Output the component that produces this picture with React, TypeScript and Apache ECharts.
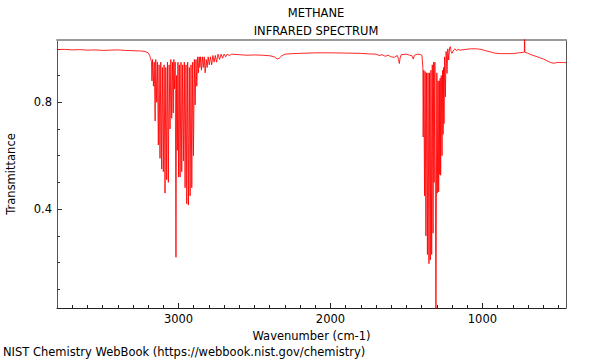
import React, { useEffect, useRef } from "react";
import * as echarts from "echarts";

const titleLines = ["METHANE", "INFRARED SPECTRUM"];
const xAxisName = "Wavenumber (cm-1)";
const yAxisName = "Transmittance";
const footerText = "NIST Chemistry WebBook (https://webbook.nist.gov/chemistry)";

const xMin = 450;
const xMax = 3800;
const yMin = 0.03;
const yMax = 1.033;

const xMajorTicks = [1000, 2000, 3000];
const xMinorTicks = [500, 600, 700, 800, 900, 1100, 1200, 1300, 1400, 1500, 1600, 1700, 1800, 1900, 2100, 2200, 2300, 2400, 2500, 2600, 2700, 2800, 2900, 3100, 3200, 3300, 3400, 3500, 3600, 3700];
const yMajorTicks = [0.4, 0.8];
const yMinorTicks = [0.1, 0.2, 0.3, 0.5, 0.6, 0.7, 0.9, 1.0];

// [wavenumber (cm-1), transmittance]
const baselineHigh: number[][] = [
  [3800, 0.997], [3750, 0.998], [3700, 0.996], [3650, 0.997], [3600, 0.995], [3550, 0.996],
  [3500, 0.994], [3450, 0.995], [3400, 0.996], [3350, 0.994], [3300, 0.993], [3250, 0.992],
  [3220, 0.99], [3200, 0.985], [3190, 0.975], [3182, 0.96],
];

const nu3Band: number[][] = [
  [3178, 0.95], [3175, 0.88], [3171, 0.96], [3165, 0.86], [3160, 0.95], [3154, 0.73], [3150, 0.96],
  [3144, 0.8], [3139, 0.95], [3133, 0.64], [3128, 0.94], [3122, 0.59], [3117, 0.95], [3111, 0.55],
  [3106, 0.93], [3100, 0.54], [3095, 0.94], [3089, 0.46], [3084, 0.93], [3078, 0.51], [3073, 0.95],
  [3067, 0.5], [3062, 0.94], [3056, 0.7], [3051, 0.96], [3045, 0.74], [3040, 0.95], [3035, 0.76],
  [3031, 0.96], [3027, 0.85], [3022, 0.95], [3017, 0.22], [3013, 0.9], [3008, 0.62], [3004, 0.95],
  [3000, 0.52], [2995, 0.94], [2990, 0.52], [2984, 0.95], [2979, 0.54], [2973, 0.94], [2968, 0.58],
  [2962, 0.95], [2957, 0.48], [2951, 0.94], [2946, 0.42], [2940, 0.95], [2935, 0.415], [2929, 0.93],
  [2924, 0.45], [2918, 0.94], [2913, 0.48], [2907, 0.95], [2902, 0.6], [2896, 0.96], [2891, 0.79],
  [2885, 0.96], [2880, 0.86], [2874, 0.97], [2869, 0.91], [2864, 0.97],
];

const ripples: number[][] = [
  [2860, 0.93], [2855, 0.97], [2849, 0.92], [2843, 0.97], [2837, 0.93], [2831, 0.97], [2825, 0.91],
  [2818, 0.96], [2812, 0.93], [2805, 0.97], [2798, 0.94], [2790, 0.97], [2782, 0.94], [2774, 0.975],
  [2766, 0.95], [2758, 0.975], [2750, 0.95], [2740, 0.98], [2730, 0.96], [2720, 0.98], [2710, 0.965],
  [2700, 0.98], [2690, 0.97], [2680, 0.98], [2665, 0.975], [2650, 0.98],
];

const midBaseline: number[][] = [
  [2600, 0.978], [2550, 0.976], [2500, 0.977], [2450, 0.976], [2400, 0.974], [2370, 0.97],
  [2350, 0.962], [2335, 0.966], [2320, 0.974], [2300, 0.98], [2250, 0.982], [2200, 0.983],
  [2100, 0.985], [2000, 0.985], [1900, 0.984], [1800, 0.983], [1750, 0.981], [1700, 0.98],
  [1680, 0.975], [1660, 0.978], [1640, 0.972], [1620, 0.976], [1600, 0.97], [1580, 0.968],
  [1560, 0.975], [1552, 0.96], [1547, 0.945], [1542, 0.965], [1535, 0.978], [1500, 0.98],
  [1480, 0.976], [1465, 0.975], [1455, 0.962], [1448, 0.975], [1430, 0.98], [1410, 0.979],
  [1398, 0.975], [1392, 0.93],
];

const nu4Band: number[][] = [
  [1390, 0.67], [1386, 0.92], [1381, 0.45], [1377, 0.915], [1372, 0.3], [1368, 0.91], [1362, 0.23],
  [1358, 0.91], [1352, 0.196], [1348, 0.91], [1343, 0.21], [1339, 0.92], [1334, 0.23], [1330, 0.94],
  [1325, 0.31], [1321, 0.95], [1318, 0.5], [1313, 0.95], [1306, -0.05], [1300, 0.91], [1297, 0.46],
  [1292, 0.88], [1288, 0.465], [1284, 0.88], [1281, 0.53], [1278, 0.89], [1275, 0.527], [1271, 0.9],
  [1266, 0.6], [1262, 0.92], [1259, 0.68], [1256, 0.93], [1253, 0.72], [1249, 0.97], [1244, 0.82],
  [1239, 0.99], [1233, 0.908], [1228, 1.0], [1222, 0.958], [1216, 1.005], [1211, 1.008], [1206, 0.99],
  [1200, 0.983],
];

const baselineLow: number[][] = [
  [1190, 0.995], [1180, 1.0], [1170, 0.993], [1160, 0.998], [1150, 0.995], [1120, 0.997],
  [1080, 1.0], [1040, 1.0], [1010, 0.998], [980, 0.993], [950, 0.989], [920, 0.984], [880, 0.982],
  [840, 0.982], [800, 0.982], [760, 0.985], [730, 0.987], [724, 0.988], [722.5, 1.1], [721, 0.987],
  [704, 0.984], [680, 0.978], [660, 0.974], [638, 0.97], [620, 0.966], [598, 0.962], [575, 0.955],
  [552, 0.949], [532, 0.946], [515, 0.948], [500, 0.949], [480, 0.949], [467, 0.949], [450, 0.948],
];

const FONT = "DejaVu Sans";
const FS = 11.5;

export default function App() {
  const ref = useRef<HTMLDivElement>(null);
  useEffect(() => {
    if (!ref.current) return;
    const chart = echarts.init(ref.current, undefined, { renderer: "svg" });
    const spectrum = [...baselineHigh, ...nu3Band, ...ripples, ...midBaseline, ...nu4Band, ...baselineLow];
    const plainAxis = {
      splitLine: { show: false },
      axisLabel: { show: false },
      axisTick: { show: false },
    };
    const fmt = (v: number) => String(v);
    chart.setOption({
      animation: false,
      backgroundColor: "#ffffff",
      textStyle: { fontFamily: FONT },
      title: [
        { text: titleLines[0], left: 311, top: 2, textAlign: "center", textStyle: { fontSize: FS, fontWeight: "normal", color: "#000", fontFamily: FONT } },
        { text: titleLines[1], left: 311, top: 20, textAlign: "center", textStyle: { fontSize: FS, fontWeight: "normal", color: "#000", fontFamily: FONT } },
      ],
      grid: { left: 57, right: 34, top: 40, bottom: 52, containLabel: false, outerBoundsMode: "none" },
      xAxis: [
        {
          type: "value", min: xMin, max: xMax, inverse: true, position: "bottom",
          name: xAxisName, nameLocation: "middle", nameGap: 21,
          nameTextStyle: { fontSize: FS, color: "#000", fontFamily: FONT },
          axisLine: { show: true, lineStyle: { color: "#222", width: 1 } },
          axisTick: { show: true, inside: true, length: 3, customValues: xMinorTicks, lineStyle: { color: "#222" } },
          axisLabel: { show: true, customValues: xMajorTicks, formatter: fmt, color: "#000", fontSize: FS, margin: 5, fontFamily: FONT },
          splitLine: { show: false },
        },
        {
          type: "value", min: xMin, max: xMax, inverse: true, position: "bottom", offset: 0,
          axisLine: { show: false },
          axisTick: { show: true, inside: true, length: 5, customValues: xMajorTicks, lineStyle: { color: "#222" } },
          axisLabel: { show: false }, splitLine: { show: false },
        },
        {
          type: "value", min: xMin, max: xMax, inverse: true, position: "top",
          axisLine: { show: true, lineStyle: { color: "#9a9a9a", width: 2 } },
          ...plainAxis,
        },
      ],
      yAxis: [
        {
          type: "value", min: yMin, max: yMax, position: "left",
          name: yAxisName, nameLocation: "middle", nameGap: 40,
          nameTextStyle: { fontSize: FS, color: "#000", fontFamily: FONT },
          axisLine: { show: true, lineStyle: { color: "#555", width: 1 } },
          axisTick: { show: true, inside: true, length: 3, customValues: yMinorTicks, lineStyle: { color: "#333" } },
          axisLabel: { show: true, customValues: yMajorTicks, formatter: fmt, color: "#000", fontSize: FS, margin: 5, fontFamily: FONT },
          splitLine: { show: false },
        },
        {
          type: "value", min: yMin, max: yMax, position: "left", offset: 0,
          axisLine: { show: false },
          axisTick: { show: true, inside: true, length: 5, customValues: yMajorTicks, lineStyle: { color: "#333" } },
          axisLabel: { show: false }, splitLine: { show: false },
        },
        {
          type: "value", min: yMin, max: yMax, position: "right",
          axisLine: { show: true, lineStyle: { color: "#555", width: 1 } },
          ...plainAxis,
        },
      ],
      graphic: [
        {
          type: "text", left: 3, top: 346,
          style: { text: footerText, fill: "#000", font: `${FS}px '${FONT}'` },
        },
      ],
      series: [
        {
          type: "line",
          xAxisIndex: 0,
          yAxisIndex: 0,
          data: spectrum,
          showSymbol: false,
          symbol: "none",
          clip: true,
          lineStyle: { color: "#ff0000", width: 1, opacity: 0.85 },
        },
      ],
    });
    return () => chart.dispose();
  }, []);
  return <div ref={ref} style={{ position: "fixed", left: 0, top: 0, width: 600, height: 360 }} />;
}
